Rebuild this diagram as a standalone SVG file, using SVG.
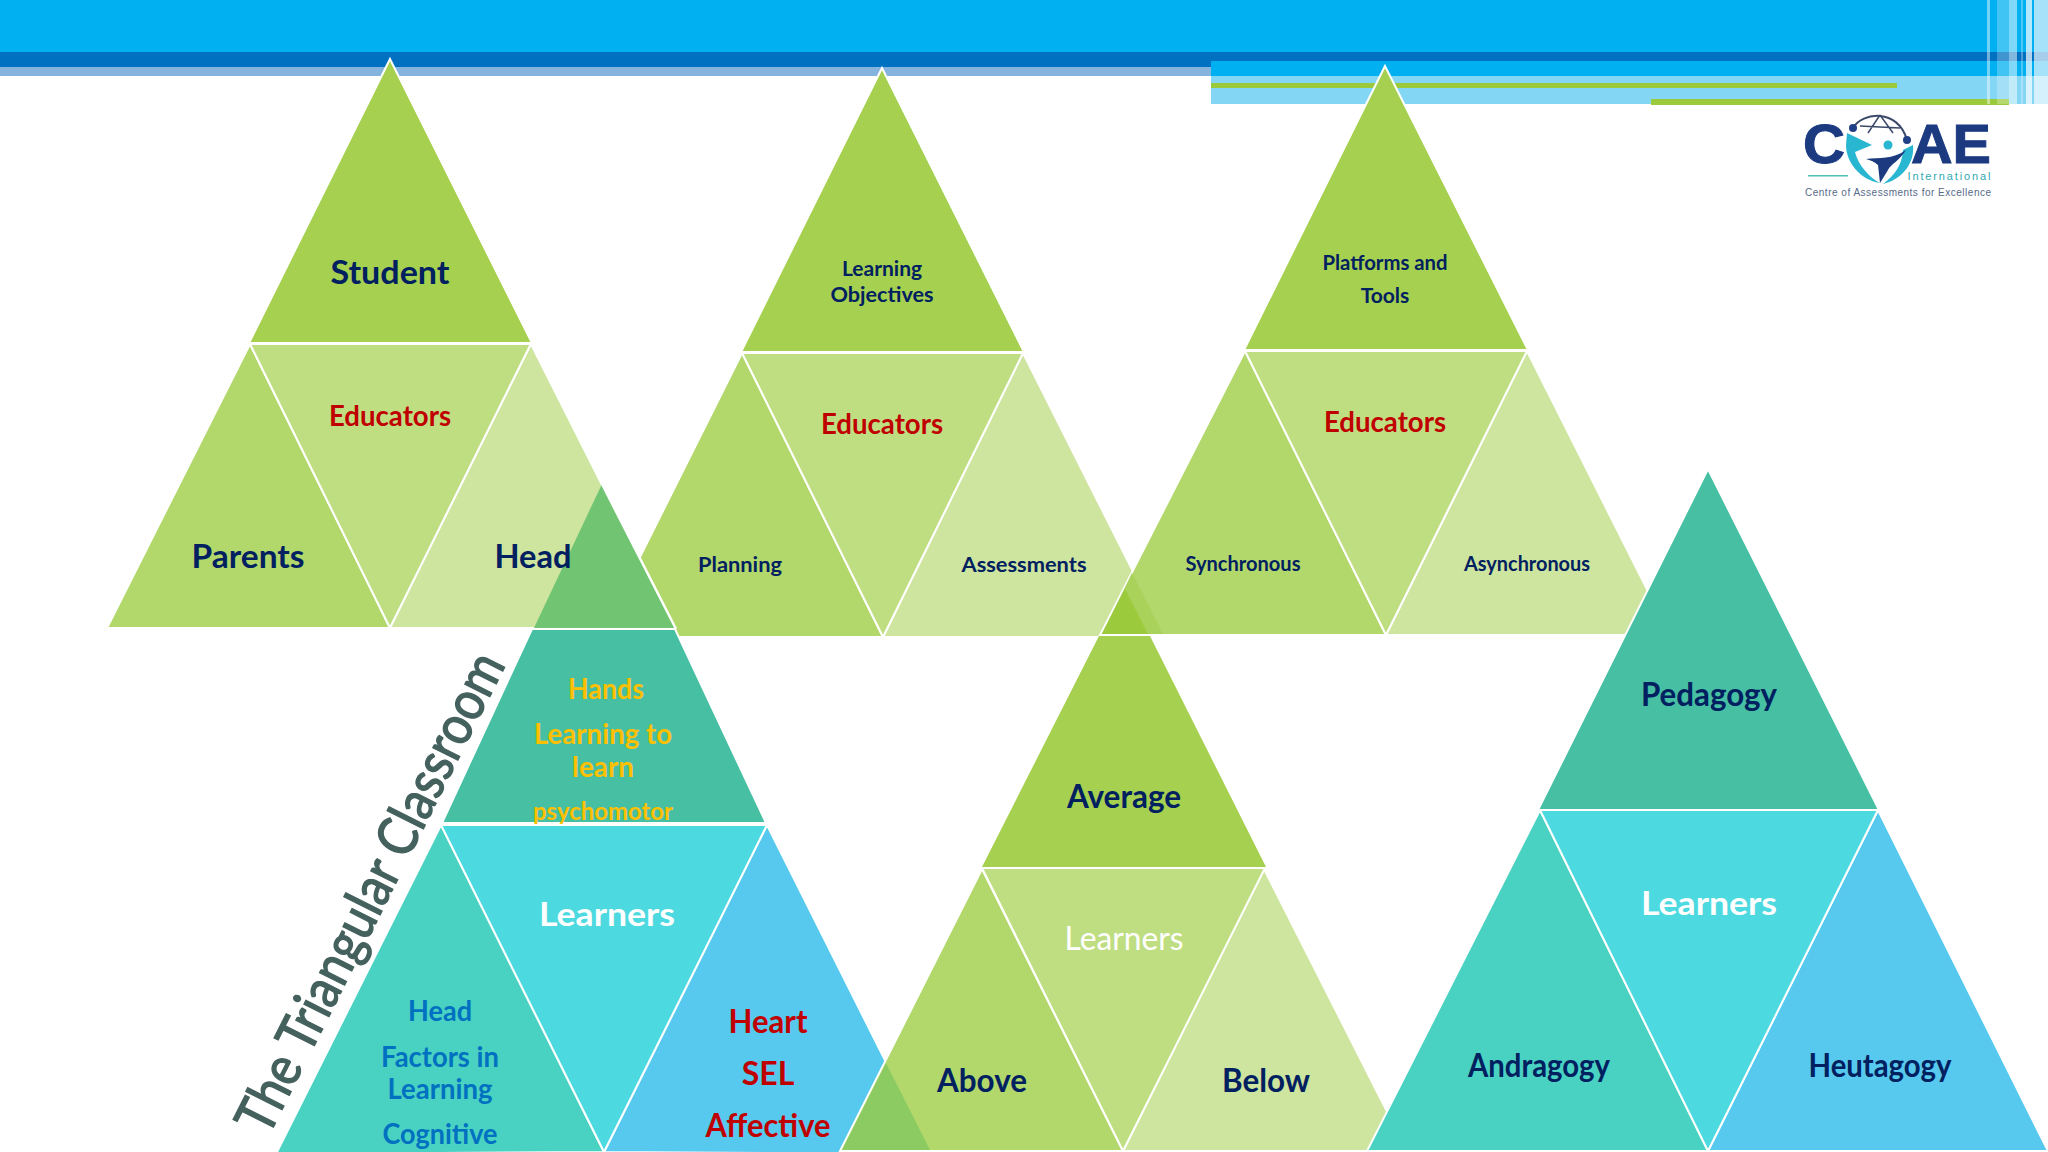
<svg xmlns="http://www.w3.org/2000/svg" width="2048" height="1152" viewBox="0 0 2048 1152">
<style>
text{font-family:"Lato","Carlito","Liberation Sans",sans-serif;font-weight:700;text-anchor:middle;fill:#002060}
polygon.t{stroke:#fff;stroke-width:2;stroke-linejoin:miter}
.g1{fill:#A6D04F}.g2{fill:#BFDE82}.g3{fill:#B2D86C}.g4{fill:#CDE59E}
.c1{fill:#46BFA3}.c2{fill:#4DD9E0}.c3{fill:#49D2C2}.c4{fill:#57C9EE}
.red{fill:#C00000}.xl{font-size:32px}.lg{font-size:29px}.sm{font-size:21px}
.yel{fill:#FFC000}.blu{fill:#0070C0}.wht{fill:#fff}
</style>
<g id="header">
<rect x="0" y="0" width="2048" height="52" fill="#00B0F0"/>
<rect x="0" y="52" width="2048" height="15" fill="#0070C0"/>
<rect x="0" y="67" width="1211" height="9" fill="#84B4DE"/>
<rect x="1211" y="61" width="837" height="15" fill="#00B0F0"/>
<rect x="1211" y="76" width="837" height="28" fill="#84D6F5"/>
<rect x="1211" y="83" width="686" height="5" fill="#9BCB3C"/>
<rect x="1651" y="99" width="358" height="6" fill="#9BCB3C"/>
<g fill="#fff">
<rect x="1987" y="0" width="3" height="104" opacity=".45"/>
<rect x="1997" y="0" width="12" height="104" opacity=".25"/>
<rect x="2009" y="0" width="8" height="104" opacity=".5"/>
<rect x="2021" y="0" width="2" height="104" opacity=".3"/>
<rect x="2026" y="0" width="6" height="104" opacity=".7"/>
<rect x="2034" y="0" width="14" height="104" opacity=".65"/>
</g>
</g>
<g id="logo">
<path d="M1853,128 C1862,112 1898,108 1907,140" fill="none" stroke="#3B4A6B" stroke-width="2"/>
<path d="M1880,115 L1868,133 M1880,115 L1893,133 M1860,126 L1900,128" fill="none" stroke="#3B4A6B" stroke-width="1.5"/>
<circle cx="1853" cy="128" r="4" fill="#1F3F86"/>
<circle cx="1907" cy="140" r="4" fill="#1F3F86"/>
<path d="M1847,133 L1872,145 L1855,152 C1858,165 1870,178 1880,183 C1860,180 1846,162 1846,145 Z" fill="#29B6D1"/>
<path d="M1913,145 C1915,165 1900,180 1883,184 C1895,175 1902,165 1903,150 Z" fill="#29B6D1"/>
<path d="M1866,159 C1880,157 1892,160 1906,150 C1900,160 1890,165 1888,170 L1880,183 L1878,165 C1875,162 1870,160 1866,159 Z" fill="#1B3A80"/>
<circle cx="1888" cy="145" r="4.5" fill="#29B6D1"/>
<rect x="1808" y="175" width="40" height="1.5" fill="#4CC3B5"/>
<text x="1824" y="163" style="font-family:'Liberation Sans',sans-serif;font-size:56px;fill:#1B3A80" stroke="#1B3A80" stroke-width="1" textLength="42" lengthAdjust="spacingAndGlyphs">C</text>
<text x="1951" y="163" style="font-family:'Liberation Sans',sans-serif;font-size:56px;fill:#1B3A80" stroke="#1B3A80" stroke-width="1" textLength="80" lengthAdjust="spacingAndGlyphs">AE</text>
<text x="1949" y="180" style="font-family:'Liberation Sans',sans-serif;font-size:11px;font-weight:400;fill:#2FA8B4" textLength="83">International</text>
<text x="1898" y="196" style="font-family:'Liberation Sans',sans-serif;font-size:10px;font-weight:400;fill:#566A8A" textLength="186">Centre of Assessments for Excellence</text>
</g>

<g id="p2-right"><polygon class="t g4" points="1023,353 883,637 1166,637"/><text class="sm" x="1024" y="572" textLength="125" lengthAdjust="spacingAndGlyphs">Assessments</text></g>
<g id="p2-left"><polygon class="t g3" points="742,353 600,637 883,637"/><text class="sm" x="740" y="572" textLength="84" lengthAdjust="spacingAndGlyphs">Planning</text></g>
<g id="p2-mid"><polygon class="t g2" points="742,353 1023,353 883,637"/><text class="lg red" x="882" y="434" textLength="122" lengthAdjust="spacingAndGlyphs">Educators</text></g>
<g id="p2-top"><polygon class="t g1" points="882,68 741,352 1024,352"/><text class="sm" x="882" y="276">Learning</text><text class="sm" x="882" y="302" textLength="103" lengthAdjust="spacingAndGlyphs">Objectives</text></g>

<g id="p1-top"><polygon class="t g1" points="390,59 249,343 532,343"/><text class="xl" x="390" y="284" textLength="119" lengthAdjust="spacingAndGlyphs">Student</text></g>
<g id="p1-left"><polygon class="t g3" points="250,344 107,628 390,628"/><text class="xl" x="248" y="568" textLength="113" lengthAdjust="spacingAndGlyphs">Parents</text></g>
<g id="p1-mid"><polygon class="t g2" points="250,344 531,344 390,628"/><text class="lg red" x="390" y="426" textLength="122" lengthAdjust="spacingAndGlyphs">Educators</text></g>
<g id="p1-right"><polygon class="t g4" points="531,344 390,628 674,628"/>
<polygon points="602,484 534,628 676,628" fill="#70C472"/>
<path d="M602,484 L676,629" stroke="#fff" stroke-width="2.5" fill="none"/>
<text class="xl" x="533" y="568" textLength="77" lengthAdjust="spacingAndGlyphs">Head</text></g>

<g id="p3-right"><polygon class="t g4" points="1527,351 1386,635 1670,635"/><text class="sm" x="1527" y="571" textLength="126" lengthAdjust="spacingAndGlyphs">Asynchronous</text></g>
<g id="p3-left"><polygon class="t g3" points="1245,351 1100,635 1386,635"/>
<polygon points="1132,573 1102,634 1163,634" fill="#A9D25A"/>
<polygon points="1125,589 1102,634 1148,634" fill="#9BCB3C"/>
<text class="sm" x="1243" y="571" textLength="115" lengthAdjust="spacingAndGlyphs">Synchronous</text></g>
<g id="p3-mid"><polygon class="t g2" points="1245,351 1527,351 1386,635"/><text class="lg red" x="1385" y="432" textLength="122" lengthAdjust="spacingAndGlyphs">Educators</text></g>
<g id="p3-top"><polygon class="t g1" points="1385,66 1244,350 1528,350"/><text class="sm" x="1385" y="270" textLength="125" lengthAdjust="spacingAndGlyphs">Platforms and</text><text class="sm" x="1385" y="303">Tools</text></g>

<g id="h-right"><polygon class="t c4" points="767,825 604,1152 932,1154"/><text class="xl red" x="768" y="1033" textLength="79" lengthAdjust="spacingAndGlyphs">Heart</text><text class="xl red" x="768" y="1085">SEL</text><text class="xl red" x="768" y="1137" textLength="125" lengthAdjust="spacingAndGlyphs">Affective</text></g>
<g id="h-left"><polygon class="t c3" points="441,825 276,1154 604,1152"/><text class="lg blu" x="440" y="1021" textLength="64" lengthAdjust="spacingAndGlyphs">Head</text><text class="lg blu" x="440" y="1067" textLength="118" lengthAdjust="spacingAndGlyphs">Factors in</text><text class="lg blu" x="440" y="1099" textLength="105" lengthAdjust="spacingAndGlyphs">Learning</text><text class="lg blu" x="440" y="1144" textLength="115" lengthAdjust="spacingAndGlyphs">Cognitive</text></g>
<g id="h-mid"><polygon class="t c2" points="441,825 767,825 604,1152"/><text class="xl wht" x="607" y="926" textLength="136" lengthAdjust="spacingAndGlyphs">Learners</text></g>
<g id="h-top"><polygon class="t c1" points="532,629 675,629 766,823 442,823"/>
<text class="lg yel" x="606" y="699" textLength="76" lengthAdjust="spacingAndGlyphs">Hands</text><text class="lg yel" x="603" y="744" textLength="138" lengthAdjust="spacingAndGlyphs">Learning to</text><text class="lg yel" x="603" y="777" textLength="62" lengthAdjust="spacingAndGlyphs">learn</text><text class="yel" x="603" y="820" textLength="140" lengthAdjust="spacingAndGlyphs" style="font-size:25px">psychomotor</text></g>

<g id="a-right"><polygon class="t g4" points="1264,869 1123,1151 1407,1151"/><text class="xl" x="1266" y="1092" textLength="88" lengthAdjust="spacingAndGlyphs">Below</text></g>
<g id="a-left"><polygon class="t g3" points="982,869 840,1151 1123,1151"/>
<polygon points="886,1063 842,1150 930,1150" fill="#8CCB62"/>
<text class="xl" x="982" y="1092" textLength="90" lengthAdjust="spacingAndGlyphs">Above</text></g>
<g id="a-mid"><polygon class="t g2" points="982,868 1265,868 1123,1151"/><text class="xl wht" style="font-weight:400" x="1124" y="950" textLength="119" lengthAdjust="spacingAndGlyphs">Learners</text></g>
<g id="a-top"><polygon class="g1" points="1099,636 1150,636 1266,867 982,867"/><text class="xl" x="1124" y="808" textLength="114" lengthAdjust="spacingAndGlyphs">Average</text></g>

<g id="q-right"><polygon class="t c4" points="1878,810 1708,1151 2048,1151"/><text class="xl" x="1880" y="1077" textLength="143" lengthAdjust="spacingAndGlyphs">Heutagogy</text></g>
<g id="q-left"><polygon class="t c3" points="1540,810 1367,1151 1708,1151"/><text class="xl" x="1539" y="1077" textLength="142" lengthAdjust="spacingAndGlyphs">Andragogy</text></g>
<g id="q-mid"><polygon class="t c2" points="1540,810 1878,810 1708,1151"/><text class="xl wht" x="1709" y="915" textLength="136" lengthAdjust="spacingAndGlyphs">Learners</text></g>
<g id="q-top"><polygon class="t c1" points="1708,469 1538,810 1879,810"/><text class="xl" x="1709" y="706" textLength="136" lengthAdjust="spacingAndGlyphs">Pedagogy</text></g>

<text id="title" x="0" y="0" transform="translate(387,901) rotate(-63.3)" style="font-size:55px;font-weight:400;fill:#44615E" stroke="#44615E" stroke-width="1.4" textLength="530" lengthAdjust="spacingAndGlyphs">The Triangular Classroom</text>
</svg>
